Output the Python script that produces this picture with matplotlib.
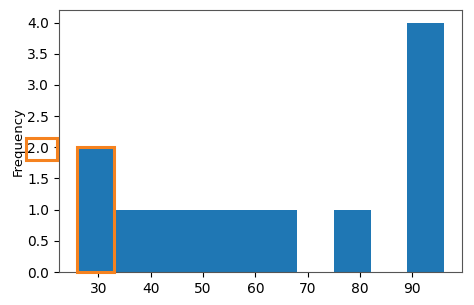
import matplotlib
matplotlib.use("Agg")
import matplotlib.pyplot as plt
from matplotlib.patches import Rectangle

# scores (10 bins from 26 to 96)
scores = [26, 30, 35, 42, 50, 58, 65, 78, 90, 93, 95, 96]
n_bins = 10
highlight_bin = 0
highlight_tick = "2.0"

fig = plt.figure(figsize=(4.74, 3.05), dpi=100)
ax = fig.add_axes([0.1245, 0.108, 0.8505, 0.859])

counts, edges, patches = ax.hist(scores, bins=n_bins, color="#1f77b4")
ax.set_ylabel("Frequency", fontsize=9.5, labelpad=1.5)
ax.set_yticks([0.0, 0.5, 1.0, 1.5, 2.0, 2.5, 3.0, 3.5, 4.0])

for s in ax.spines.values():
    s.set_color("#555555")

orange = "#f5821f"
# box around the highlighted bar
ax.add_patch(Rectangle((edges[highlight_bin], 0), edges[highlight_bin + 1] - edges[highlight_bin],
                       counts[highlight_bin], fill=False, edgecolor=orange, linewidth=2.2, zorder=5,
                       clip_on=False))

# box around the matching y tick label
fig.canvas.draw()
renderer = fig.canvas.get_renderer()
for lab in ax.get_yticklabels():
    if lab.get_text() == highlight_tick:
        bb = lab.get_window_extent(renderer)
        x0, y0 = bb.x0 - 1, bb.y0 - 4
        w, h = bb.width + 9, bb.height + 8
        fig.patches.append(Rectangle((x0, y0), w, h, transform=None, fill=False,
                                     edgecolor=orange, linewidth=2.2, figure=fig))

fig.savefig("out.png", dpi=100)
